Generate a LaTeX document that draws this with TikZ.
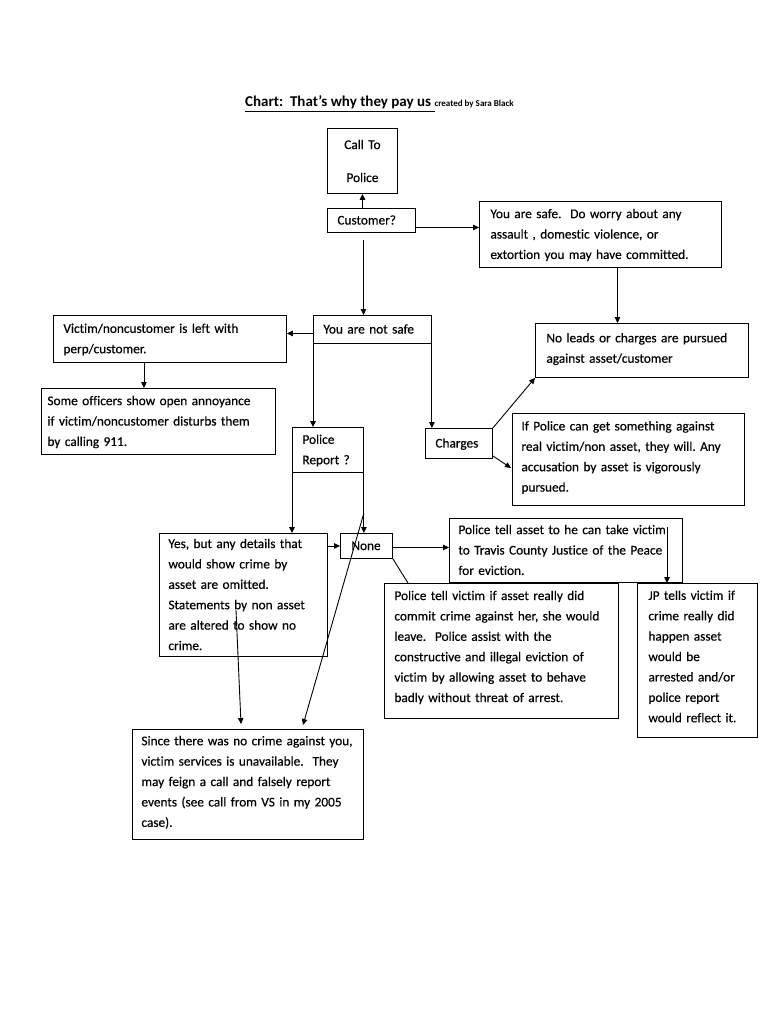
\documentclass[tikz,border=0pt]{standalone}
\usepackage{fontspec}
\setmainfont{Carlito}[Ligatures=NoCommon, UprightFeatures={FakeBold=0.35}]
\usetikzlibrary{arrows.meta,calc}
\newcommand\boxlines[1]{\begin{tabular}{@{}l@{}}#1\end{tabular}}
\begin{document}
\frenchspacing
\begin{tikzpicture}[x=1pt,y=-1pt,
  plainbox/.style={draw, line width=0.9pt, fill=white, rectangle, inner xsep=10pt, inner ysep=0pt,
    anchor=north west, font=\fontsize{13.3}{20.4}\selectfont\frenchspacing},
  box/.style={plainbox, align=left},
  conn/.style={line width=0.9pt},
  arr/.style={conn, -{Triangle[length=6pt,width=5.5pt]}}]
\useasboundingbox[fill=white] (0,0) rectangle (768,1024);

% title
\node[anchor=base west, inner sep=0pt] (title) at (245,107)
  {\fontsize{15}{18}\selectfont\bfseries\underline{Chart:\ \ That’s why they pay us\ }\fontsize{9}{10}\selectfont created by Sara Black};

% boxes
\node[plainbox, align=center, text width=50pt, minimum height=65pt] (call) at (327,128) {Call To\\[12.6pt]Police};
\node[box, text width=68pt, minimum height=24pt] (cust) at (327,208) {\boxlines{Customer?}};
\node[box, inner xsep=11pt, text width=220pt, minimum height=66pt] (safe) at (479,201)
  {\boxlines{You are safe.\ \ Do worry about any\\assault , domestic violence, or\\extortion you may have committed.}};
\node[box, inner xsep=11pt, text width=191pt, minimum height=54pt] (noleads) at (535,323)
  {\boxlines{No leads or charges are pursued\\against asset/customer\\[4pt]}};
\node[box, text width=98pt, minimum height=28pt] (notsafe) at (313,315) {\boxlines{You are not safe}};
\node[box, text width=213pt, minimum height=47pt] (victim) at (53,315)
  {\boxlines{Victim/noncustomer is left with\\perp/customer.}};
\node[box, inner xsep=6pt, text width=222pt, minimum height=66pt] (officers) at (41,388)
  {\boxlines{Some officers show open annoyance\\if victim/noncustomer disturbs them\\by calling 911.}};
\node[box, text width=51pt, minimum height=45pt] (report) at (292,427) {\boxlines{Police\\Report ?}};
\node[box, text width=47pt, minimum height=30pt] (charges) at (425,428) {\boxlines{Charges}};
\node[box, inner xsep=9pt, text width=214pt, minimum height=92pt] (ifpolice) at (512,413)
  {\boxlines{If Police can get something against\\real victim/non asset, they will. Any\\accusation by asset is vigorously\\pursued.\\[5pt]}};
\node[box, inner xsep=9pt, text width=150pt, minimum height=123pt] (yes) at (159,533)
  {\boxlines{Yes, but any details that\\would show crime by\\asset are omitted.\\Statements by non asset\\are altered to show no\\crime.}};
\node[box, inner xsep=11pt, text width=30pt, minimum height=25pt] (none) at (340,533) {\boxlines{None}};
\node[box, inner xsep=9pt, text width=215pt, minimum height=64pt] (asset) at (449,518)
  {\boxlines{Police tell asset to he can take victim\\to Travis County Justice of the Peace\\for eviction.}};
\node[box, text width=214pt, minimum height=135pt] (ptv) at (384,583)
  {\boxlines{Police tell victim if asset really did\\commit crime against her, she would\\leave.\ \ Police assist with the\\constructive and illegal eviction of\\victim by allowing asset to behave\\badly without threat of arrest.\\[8pt]}};
\node[box, inner xsep=11pt, text width=98pt, minimum height=154pt] (jp) at (637,583)
  {\boxlines{JP tells victim if\\crime really did\\happen asset\\would be\\arrested and/or\\police report\\would reflect it.\\[7pt]}};
\node[box, inner xsep=9pt, text width=213pt, minimum height=110pt] (since) at (132,729)
  {\boxlines{Since there was no crime against you,\\victim services is unavailable.\ \ They\\may feign a call and falsely report\\events (see call from VS in my 2005\\case).\\[5pt]}};

% free ends
\coordinate (jpstart) at ($(jp.north west)+(30,-56)$);
\coordinate (yesstart) at ($(yes.north west)+(77,77)$);
\coordinate (repstart) at ($(report.south east)+(0,40)$);

% connectors
\draw[arr] (call.south |- cust.north) -- (call.south);
\draw[arr] ($(cust.east)+(0,7)$) -- (safe.west |- {$(cust.east)+(0,7)$});
\draw[arr] ($(cust.south)+(-8,7)$) -- ({$(cust.south)+(-8,7)$} |- notsafe.north);
\draw[arr] ($(safe.south)+(17,0)$) -- ({$(safe.south)+(17,0)$} |- noleads.north);
\draw[arr] ($(notsafe.west)+(0,4)$) -- (victim.east |- {$(notsafe.west)+(0,4)$});
\draw[arr] ($(victim.south)+(-26,0)$) -- ({$(victim.south)+(-26,0)$} |- officers.north);
\draw[arr] (notsafe.south west) -- (notsafe.south west |- report.north);
\draw[arr] (notsafe.south east) -- (notsafe.south east |- charges.north);
\draw[arr] (charges.north east) -- (noleads.south west);
\draw[arr] ($(charges.south east)+(0,-3)$) -- ($(ifpolice.north west)+(-1,55)$);
\draw[arr] (report.south west) -- (report.south west |- yes.north);
\draw[arr] (report.south east) -- (report.south east |- none.north);
\draw[arr] (none.west -| yes.east) -- (none.west);
\draw[conn] (none.south east) -- ($(ptv.north west)+(24,0)$);
\draw[arr] ($(none.east)+(0,1.5)$) -- (asset.west |- {$(none.east)+(0,1.5)$});
\draw[arr] (jpstart) -- (jpstart |- jp.north);
\draw[arr] (yesstart) -- ($(since.north west)+(109,-5)$);
\draw[arr] (repstart) -- ($(since.north west)+(171,-4)$);
\end{tikzpicture}
\end{document}
